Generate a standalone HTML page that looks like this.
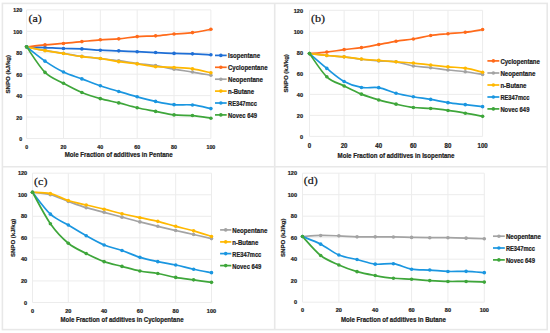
<!DOCTYPE html><html><head><meta charset="utf-8"><style>html,body{margin:0;padding:0;background:#fff;width:550px;height:333px;overflow:hidden}svg{display:block}</style></head><body>
<svg width="550" height="333" viewBox="0 0 550 333">
<rect width="550" height="333" fill="#fff"/>
<g fill="none" stroke="#e8e8e8" stroke-width="1.6">
<rect x="2.4" y="3.4" width="544.8" height="326.2"/>
<line x1="274.7" y1="3.5" x2="274.7" y2="329.8"/>
<line x1="2.5" y1="166.8" x2="547" y2="166.8"/>
</g>
<g><g stroke="#ececec" stroke-width="1" fill="none"><line x1="26.60" y1="138.50" x2="210.90" y2="138.50"/><line x1="26.60" y1="117.07" x2="210.90" y2="117.07"/><line x1="26.60" y1="95.63" x2="210.90" y2="95.63"/><line x1="26.60" y1="74.20" x2="210.90" y2="74.20"/><line x1="26.60" y1="52.77" x2="210.90" y2="52.77"/><line x1="26.60" y1="31.33" x2="210.90" y2="31.33"/><line x1="26.60" y1="9.90" x2="210.90" y2="9.90"/><line x1="26.60" y1="9.90" x2="26.60" y2="138.50"/><line x1="63.46" y1="9.90" x2="63.46" y2="138.50"/><line x1="100.32" y1="9.90" x2="100.32" y2="138.50"/><line x1="137.18" y1="9.90" x2="137.18" y2="138.50"/><line x1="174.04" y1="9.90" x2="174.04" y2="138.50"/><line x1="210.90" y1="9.90" x2="210.90" y2="138.50"/></g><g font-family='"Liberation Sans", sans-serif' font-weight="bold" font-size="6" fill="#222" stroke="#222" stroke-width="0.22"><text x="22.10" y="140.95" text-anchor="end" textLength="2.9" lengthAdjust="spacingAndGlyphs">0</text><text x="22.10" y="119.52" text-anchor="end" textLength="5.9" lengthAdjust="spacingAndGlyphs">20</text><text x="22.10" y="98.08" text-anchor="end" textLength="5.9" lengthAdjust="spacingAndGlyphs">40</text><text x="22.10" y="76.65" text-anchor="end" textLength="5.9" lengthAdjust="spacingAndGlyphs">60</text><text x="22.10" y="55.22" text-anchor="end" textLength="5.9" lengthAdjust="spacingAndGlyphs">80</text><text x="22.10" y="33.78" text-anchor="end" textLength="8.8" lengthAdjust="spacingAndGlyphs">100</text><text x="22.10" y="12.35" text-anchor="end" textLength="8.8" lengthAdjust="spacingAndGlyphs">120</text><text x="26.60" y="148.75" text-anchor="middle" font-size="6.00" textLength="2.9" lengthAdjust="spacingAndGlyphs">0</text><text x="63.46" y="148.75" text-anchor="middle" font-size="6.00" textLength="5.9" lengthAdjust="spacingAndGlyphs">20</text><text x="100.32" y="148.75" text-anchor="middle" font-size="6.00" textLength="5.9" lengthAdjust="spacingAndGlyphs">40</text><text x="137.18" y="148.75" text-anchor="middle" font-size="6.00" textLength="5.9" lengthAdjust="spacingAndGlyphs">60</text><text x="174.04" y="148.75" text-anchor="middle" font-size="6.00" textLength="5.9" lengthAdjust="spacingAndGlyphs">80</text><text x="210.90" y="148.75" text-anchor="middle" font-size="6.00" textLength="8.8" lengthAdjust="spacingAndGlyphs">100</text></g><text x="118.75" y="157.20" font-family='"Liberation Sans", sans-serif' font-weight="bold" font-size="6.8" fill="#222" stroke="#222" stroke-width="0.22" text-anchor="middle" textLength="108.0" lengthAdjust="spacingAndGlyphs">Mole Fraction of additives in Pentane</text><text transform="translate(7.70,74.20) rotate(-90)" x="0" y="2.3" font-family='"Liberation Sans", sans-serif' font-weight="bold" font-size="6.2" fill="#222" stroke="#222" stroke-width="0.2" text-anchor="middle" textLength="38.5" lengthAdjust="spacingAndGlyphs">SNPO (kJ/kg)</text><path d="M26.60,46.87 C29.67,47.00 38.89,47.35 45.03,47.62 C51.17,47.89 57.32,48.27 63.46,48.48 C69.60,48.69 75.75,48.62 81.89,48.91 C88.03,49.19 94.18,49.87 100.32,50.19 C106.46,50.52 112.61,50.59 118.75,50.84 C124.89,51.09 131.04,51.41 137.18,51.69 C143.32,51.98 149.47,52.27 155.61,52.55 C161.75,52.84 167.90,53.20 174.04,53.41 C180.18,53.62 186.33,53.61 192.47,53.84 C198.61,54.07 207.83,54.64 210.90,54.80" fill="none" stroke="#1f6fd6" stroke-width="1.7" stroke-linejoin="round" stroke-linecap="round"/><circle cx="26.60" cy="46.87" r="1.8" fill="#1f6fd6"/><circle cx="45.03" cy="47.62" r="1.8" fill="#1f6fd6"/><circle cx="63.46" cy="48.48" r="1.8" fill="#1f6fd6"/><circle cx="81.89" cy="48.91" r="1.8" fill="#1f6fd6"/><circle cx="100.32" cy="50.19" r="1.8" fill="#1f6fd6"/><circle cx="118.75" cy="50.84" r="1.8" fill="#1f6fd6"/><circle cx="137.18" cy="51.69" r="1.8" fill="#1f6fd6"/><circle cx="155.61" cy="52.55" r="1.8" fill="#1f6fd6"/><circle cx="174.04" cy="53.41" r="1.8" fill="#1f6fd6"/><circle cx="192.47" cy="53.84" r="1.8" fill="#1f6fd6"/><circle cx="210.90" cy="54.80" r="1.8" fill="#1f6fd6"/><path d="M26.60,46.87 C29.67,46.53 38.89,45.41 45.03,44.84 C51.17,44.26 57.32,43.98 63.46,43.44 C69.60,42.91 75.75,42.23 81.89,41.62 C88.03,41.01 94.18,40.26 100.32,39.80 C106.46,39.34 112.61,39.37 118.75,38.84 C124.89,38.30 131.04,37.08 137.18,36.58 C143.32,36.08 149.47,36.26 155.61,35.83 C161.75,35.41 167.90,34.55 174.04,34.01 C180.18,33.48 186.33,33.41 192.47,32.62 C198.61,31.83 207.83,29.85 210.90,29.30" fill="none" stroke="#ff6a1a" stroke-width="1.7" stroke-linejoin="round" stroke-linecap="round"/><circle cx="26.60" cy="46.87" r="1.8" fill="#ff6a1a"/><circle cx="45.03" cy="44.84" r="1.8" fill="#ff6a1a"/><circle cx="63.46" cy="43.44" r="1.8" fill="#ff6a1a"/><circle cx="81.89" cy="41.62" r="1.8" fill="#ff6a1a"/><circle cx="100.32" cy="39.80" r="1.8" fill="#ff6a1a"/><circle cx="118.75" cy="38.84" r="1.8" fill="#ff6a1a"/><circle cx="137.18" cy="36.58" r="1.8" fill="#ff6a1a"/><circle cx="155.61" cy="35.83" r="1.8" fill="#ff6a1a"/><circle cx="174.04" cy="34.01" r="1.8" fill="#ff6a1a"/><circle cx="192.47" cy="32.62" r="1.8" fill="#ff6a1a"/><circle cx="210.90" cy="29.30" r="1.8" fill="#ff6a1a"/><path d="M26.60,46.87 C29.67,47.46 38.89,49.34 45.03,50.41 C51.17,51.48 57.32,52.30 63.46,53.30 C69.60,54.30 75.75,55.54 81.89,56.41 C88.03,57.29 94.18,57.84 100.32,58.55 C106.46,59.27 112.61,59.88 118.75,60.70 C124.89,61.52 131.04,62.66 137.18,63.48 C143.32,64.30 149.47,64.68 155.61,65.63 C161.75,66.57 167.90,68.09 174.04,69.16 C180.18,70.23 186.33,71.04 192.47,72.06 C198.61,73.07 207.83,74.74 210.90,75.27" fill="none" stroke="#a3a3a3" stroke-width="1.7" stroke-linejoin="round" stroke-linecap="round"/><circle cx="26.60" cy="46.87" r="1.8" fill="#a3a3a3"/><circle cx="45.03" cy="50.41" r="1.8" fill="#a3a3a3"/><circle cx="63.46" cy="53.30" r="1.8" fill="#a3a3a3"/><circle cx="81.89" cy="56.41" r="1.8" fill="#a3a3a3"/><circle cx="100.32" cy="58.55" r="1.8" fill="#a3a3a3"/><circle cx="118.75" cy="60.70" r="1.8" fill="#a3a3a3"/><circle cx="137.18" cy="63.48" r="1.8" fill="#a3a3a3"/><circle cx="155.61" cy="65.63" r="1.8" fill="#a3a3a3"/><circle cx="174.04" cy="69.16" r="1.8" fill="#a3a3a3"/><circle cx="192.47" cy="72.06" r="1.8" fill="#a3a3a3"/><circle cx="210.90" cy="75.27" r="1.8" fill="#a3a3a3"/><path d="M26.60,46.87 C29.67,47.50 38.89,49.52 45.03,50.62 C51.17,51.73 57.32,52.52 63.46,53.52 C69.60,54.52 75.75,55.80 81.89,56.62 C88.03,57.45 94.18,57.61 100.32,58.45 C106.46,59.29 112.61,60.75 118.75,61.66 C124.89,62.57 131.04,63.07 137.18,63.91 C143.32,64.75 149.47,66.11 155.61,66.70 C161.75,67.29 167.90,67.09 174.04,67.45 C180.18,67.81 186.33,67.95 192.47,68.84 C198.61,69.73 207.83,72.15 210.90,72.81" fill="none" stroke="#ffb800" stroke-width="1.7" stroke-linejoin="round" stroke-linecap="round"/><circle cx="26.60" cy="46.87" r="1.8" fill="#ffb800"/><circle cx="45.03" cy="50.62" r="1.8" fill="#ffb800"/><circle cx="63.46" cy="53.52" r="1.8" fill="#ffb800"/><circle cx="81.89" cy="56.62" r="1.8" fill="#ffb800"/><circle cx="100.32" cy="58.45" r="1.8" fill="#ffb800"/><circle cx="118.75" cy="61.66" r="1.8" fill="#ffb800"/><circle cx="137.18" cy="63.91" r="1.8" fill="#ffb800"/><circle cx="155.61" cy="66.70" r="1.8" fill="#ffb800"/><circle cx="174.04" cy="67.45" r="1.8" fill="#ffb800"/><circle cx="192.47" cy="68.84" r="1.8" fill="#ffb800"/><circle cx="210.90" cy="72.81" r="1.8" fill="#ffb800"/><path d="M26.60,46.87 C29.67,49.25 38.89,56.93 45.03,61.13 C51.17,65.32 57.32,69.09 63.46,72.06 C69.60,75.02 75.75,76.63 81.89,78.92 C88.03,81.20 94.18,83.68 100.32,85.77 C106.46,87.86 112.61,89.61 118.75,91.45 C124.89,93.29 131.04,95.15 137.18,96.81 C143.32,98.47 149.47,100.12 155.61,101.42 C161.75,102.72 167.90,104.05 174.04,104.64 C180.18,105.22 186.33,104.30 192.47,104.96 C198.61,105.62 207.83,107.99 210.90,108.60" fill="none" stroke="#1a96e0" stroke-width="1.7" stroke-linejoin="round" stroke-linecap="round"/><circle cx="26.60" cy="46.87" r="1.8" fill="#1a96e0"/><circle cx="45.03" cy="61.13" r="1.8" fill="#1a96e0"/><circle cx="63.46" cy="72.06" r="1.8" fill="#1a96e0"/><circle cx="81.89" cy="78.92" r="1.8" fill="#1a96e0"/><circle cx="100.32" cy="85.77" r="1.8" fill="#1a96e0"/><circle cx="118.75" cy="91.45" r="1.8" fill="#1a96e0"/><circle cx="137.18" cy="96.81" r="1.8" fill="#1a96e0"/><circle cx="155.61" cy="101.42" r="1.8" fill="#1a96e0"/><circle cx="174.04" cy="104.64" r="1.8" fill="#1a96e0"/><circle cx="192.47" cy="104.96" r="1.8" fill="#1a96e0"/><circle cx="210.90" cy="108.60" r="1.8" fill="#1a96e0"/><path d="M26.60,46.87 C29.67,51.12 38.89,66.31 45.03,72.38 C51.17,78.45 57.32,79.95 63.46,83.31 C69.60,86.67 75.75,89.97 81.89,92.53 C88.03,95.08 94.18,96.90 100.32,98.63 C106.46,100.37 112.61,101.40 118.75,102.92 C124.89,104.44 131.04,106.33 137.18,107.74 C143.32,109.15 149.47,110.19 155.61,111.39 C161.75,112.58 167.90,114.23 174.04,114.92 C180.18,115.62 186.33,115.01 192.47,115.57 C198.61,116.12 207.83,117.80 210.90,118.25" fill="none" stroke="#3ea63a" stroke-width="1.7" stroke-linejoin="round" stroke-linecap="round"/><circle cx="26.60" cy="46.87" r="1.8" fill="#3ea63a"/><circle cx="45.03" cy="72.38" r="1.8" fill="#3ea63a"/><circle cx="63.46" cy="83.31" r="1.8" fill="#3ea63a"/><circle cx="81.89" cy="92.53" r="1.8" fill="#3ea63a"/><circle cx="100.32" cy="98.63" r="1.8" fill="#3ea63a"/><circle cx="118.75" cy="102.92" r="1.8" fill="#3ea63a"/><circle cx="137.18" cy="107.74" r="1.8" fill="#3ea63a"/><circle cx="155.61" cy="111.39" r="1.8" fill="#3ea63a"/><circle cx="174.04" cy="114.92" r="1.8" fill="#3ea63a"/><circle cx="192.47" cy="115.57" r="1.8" fill="#3ea63a"/><circle cx="210.90" cy="118.25" r="1.8" fill="#3ea63a"/><line x1="215.00" y1="55.40" x2="226.70" y2="55.40" stroke="#1f6fd6" stroke-width="1.7"/><circle cx="220.85" cy="55.40" r="1.8" fill="#1f6fd6"/><text x="228.00" y="58.30" font-family='"Liberation Sans", sans-serif' font-weight="bold" font-size="6.9" fill="#222" stroke="#222" stroke-width="0.22" textLength="32.0" lengthAdjust="spacingAndGlyphs">Isopentane</text><line x1="215.00" y1="67.30" x2="226.70" y2="67.30" stroke="#ff6a1a" stroke-width="1.7"/><circle cx="220.85" cy="67.30" r="1.8" fill="#ff6a1a"/><text x="228.00" y="70.20" font-family='"Liberation Sans", sans-serif' font-weight="bold" font-size="6.9" fill="#222" stroke="#222" stroke-width="0.22" textLength="39.5" lengthAdjust="spacingAndGlyphs">Cyclopentane</text><line x1="215.00" y1="79.20" x2="226.70" y2="79.20" stroke="#a3a3a3" stroke-width="1.7"/><circle cx="220.85" cy="79.20" r="1.8" fill="#a3a3a3"/><text x="228.00" y="82.10" font-family='"Liberation Sans", sans-serif' font-weight="bold" font-size="6.9" fill="#222" stroke="#222" stroke-width="0.22" textLength="35.0" lengthAdjust="spacingAndGlyphs">Neopentane</text><line x1="215.00" y1="91.10" x2="226.70" y2="91.10" stroke="#ffb800" stroke-width="1.7"/><circle cx="220.85" cy="91.10" r="1.8" fill="#ffb800"/><text x="228.00" y="94.00" font-family='"Liberation Sans", sans-serif' font-weight="bold" font-size="6.9" fill="#222" stroke="#222" stroke-width="0.22" textLength="26.0" lengthAdjust="spacingAndGlyphs">n-Butane</text><line x1="215.00" y1="103.00" x2="226.70" y2="103.00" stroke="#1a96e0" stroke-width="1.7"/><circle cx="220.85" cy="103.00" r="1.8" fill="#1a96e0"/><text x="228.00" y="105.90" font-family='"Liberation Sans", sans-serif' font-weight="bold" font-size="6.9" fill="#222" stroke="#222" stroke-width="0.22" textLength="29.0" lengthAdjust="spacingAndGlyphs">RE347mcc</text><line x1="215.00" y1="114.90" x2="226.70" y2="114.90" stroke="#3ea63a" stroke-width="1.7"/><circle cx="220.85" cy="114.90" r="1.8" fill="#3ea63a"/><text x="228.00" y="117.80" font-family='"Liberation Sans", sans-serif' font-weight="bold" font-size="6.9" fill="#222" stroke="#222" stroke-width="0.22" textLength="29.0" lengthAdjust="spacingAndGlyphs">Novec 649</text><text transform="translate(28.40,21.60) scale(1.1,1)" font-family='"Liberation Serif", serif' font-size="10.9" fill="#111" stroke="#111" stroke-width="0.2">(a)</text></g>
<g><g stroke="#ececec" stroke-width="1" fill="none"><line x1="309.50" y1="136.40" x2="482.60" y2="136.40"/><line x1="309.50" y1="115.38" x2="482.60" y2="115.38"/><line x1="309.50" y1="94.37" x2="482.60" y2="94.37"/><line x1="309.50" y1="73.35" x2="482.60" y2="73.35"/><line x1="309.50" y1="52.33" x2="482.60" y2="52.33"/><line x1="309.50" y1="31.32" x2="482.60" y2="31.32"/><line x1="309.50" y1="10.30" x2="482.60" y2="10.30"/><line x1="309.50" y1="10.30" x2="309.50" y2="136.40"/><line x1="344.12" y1="10.30" x2="344.12" y2="136.40"/><line x1="378.74" y1="10.30" x2="378.74" y2="136.40"/><line x1="413.36" y1="10.30" x2="413.36" y2="136.40"/><line x1="447.98" y1="10.30" x2="447.98" y2="136.40"/><line x1="482.60" y1="10.30" x2="482.60" y2="136.40"/></g><g font-family='"Liberation Sans", sans-serif' font-weight="bold" font-size="6" fill="#222" stroke="#222" stroke-width="0.22"><text x="303.00" y="139.15" text-anchor="end" textLength="3.1" lengthAdjust="spacingAndGlyphs">0</text><text x="303.00" y="118.13" text-anchor="end" textLength="6.2" lengthAdjust="spacingAndGlyphs">20</text><text x="303.00" y="97.12" text-anchor="end" textLength="6.2" lengthAdjust="spacingAndGlyphs">40</text><text x="303.00" y="76.10" text-anchor="end" textLength="6.2" lengthAdjust="spacingAndGlyphs">60</text><text x="303.00" y="55.08" text-anchor="end" textLength="6.2" lengthAdjust="spacingAndGlyphs">80</text><text x="303.00" y="34.07" text-anchor="end" textLength="9.3" lengthAdjust="spacingAndGlyphs">100</text><text x="303.00" y="13.05" text-anchor="end" textLength="9.3" lengthAdjust="spacingAndGlyphs">120</text><text x="309.50" y="147.55" text-anchor="middle" font-size="6.60" textLength="3.4" lengthAdjust="spacingAndGlyphs">0</text><text x="344.12" y="147.55" text-anchor="middle" font-size="6.60" textLength="6.8" lengthAdjust="spacingAndGlyphs">20</text><text x="378.74" y="147.55" text-anchor="middle" font-size="6.60" textLength="6.8" lengthAdjust="spacingAndGlyphs">40</text><text x="413.36" y="147.55" text-anchor="middle" font-size="6.60" textLength="6.8" lengthAdjust="spacingAndGlyphs">60</text><text x="447.98" y="147.55" text-anchor="middle" font-size="6.60" textLength="6.8" lengthAdjust="spacingAndGlyphs">80</text><text x="482.60" y="147.55" text-anchor="middle" font-size="6.60" textLength="10.2" lengthAdjust="spacingAndGlyphs">100</text></g><text x="396.05" y="157.70" font-family='"Liberation Sans", sans-serif' font-weight="bold" font-size="6.8" fill="#222" stroke="#222" stroke-width="0.22" text-anchor="middle" textLength="117.0" lengthAdjust="spacingAndGlyphs">Mole Fraction of additives in Isopentane</text><text transform="translate(285.20,73.35) rotate(-90)" x="0" y="2.3" font-family='"Liberation Sans", sans-serif' font-weight="bold" font-size="6.2" fill="#222" stroke="#222" stroke-width="0.2" text-anchor="middle" textLength="38.5" lengthAdjust="spacingAndGlyphs">SNPO (kJ/kg)</text><path d="M309.50,53.59 C312.38,53.35 321.04,52.79 326.81,52.12 C332.58,51.46 338.35,50.35 344.12,49.60 C349.89,48.85 355.66,48.46 361.43,47.60 C367.20,46.75 372.97,45.50 378.74,44.45 C384.51,43.40 390.28,42.21 396.05,41.30 C401.82,40.39 407.59,39.95 413.36,38.99 C419.13,38.02 424.90,36.40 430.67,35.52 C436.44,34.64 442.21,34.28 447.98,33.73 C453.75,33.19 459.52,32.96 465.29,32.26 C471.06,31.56 479.72,29.99 482.60,29.53" fill="none" stroke="#ff6a1a" stroke-width="1.7" stroke-linejoin="round" stroke-linecap="round"/><circle cx="309.50" cy="53.59" r="1.8" fill="#ff6a1a"/><circle cx="326.81" cy="52.12" r="1.8" fill="#ff6a1a"/><circle cx="344.12" cy="49.60" r="1.8" fill="#ff6a1a"/><circle cx="361.43" cy="47.60" r="1.8" fill="#ff6a1a"/><circle cx="378.74" cy="44.45" r="1.8" fill="#ff6a1a"/><circle cx="396.05" cy="41.30" r="1.8" fill="#ff6a1a"/><circle cx="413.36" cy="38.99" r="1.8" fill="#ff6a1a"/><circle cx="430.67" cy="35.52" r="1.8" fill="#ff6a1a"/><circle cx="447.98" cy="33.73" r="1.8" fill="#ff6a1a"/><circle cx="465.29" cy="32.26" r="1.8" fill="#ff6a1a"/><circle cx="482.60" cy="29.53" r="1.8" fill="#ff6a1a"/><path d="M309.50,53.59 C312.38,53.91 321.04,54.94 326.81,55.49 C332.58,56.03 338.35,56.22 344.12,56.85 C349.89,57.48 355.66,58.59 361.43,59.27 C367.20,59.95 372.97,60.53 378.74,60.95 C384.51,61.37 390.28,60.95 396.05,61.79 C401.82,62.63 407.59,65.00 413.36,65.99 C419.13,66.99 424.90,67.12 430.67,67.78 C436.44,68.45 442.21,69.32 447.98,69.99 C453.75,70.65 459.52,71.04 465.29,71.77 C471.06,72.51 479.72,73.96 482.60,74.40" fill="none" stroke="#a3a3a3" stroke-width="1.7" stroke-linejoin="round" stroke-linecap="round"/><circle cx="309.50" cy="53.59" r="1.8" fill="#a3a3a3"/><circle cx="326.81" cy="55.49" r="1.8" fill="#a3a3a3"/><circle cx="344.12" cy="56.85" r="1.8" fill="#a3a3a3"/><circle cx="361.43" cy="59.27" r="1.8" fill="#a3a3a3"/><circle cx="378.74" cy="60.95" r="1.8" fill="#a3a3a3"/><circle cx="396.05" cy="61.79" r="1.8" fill="#a3a3a3"/><circle cx="413.36" cy="65.99" r="1.8" fill="#a3a3a3"/><circle cx="430.67" cy="67.78" r="1.8" fill="#a3a3a3"/><circle cx="447.98" cy="69.99" r="1.8" fill="#a3a3a3"/><circle cx="465.29" cy="71.77" r="1.8" fill="#a3a3a3"/><circle cx="482.60" cy="74.40" r="1.8" fill="#a3a3a3"/><path d="M309.50,53.59 C312.38,53.91 321.04,54.94 326.81,55.49 C332.58,56.03 338.35,56.26 344.12,56.85 C349.89,57.45 355.66,58.46 361.43,59.06 C367.20,59.65 372.97,59.97 378.74,60.42 C384.51,60.88 390.28,61.35 396.05,61.79 C401.82,62.23 407.59,62.51 413.36,63.05 C419.13,63.59 424.90,64.42 430.67,65.05 C436.44,65.68 442.21,66.31 447.98,66.83 C453.75,67.36 459.52,67.31 465.29,68.20 C471.06,69.09 479.72,71.53 482.60,72.19" fill="none" stroke="#ffb800" stroke-width="1.7" stroke-linejoin="round" stroke-linecap="round"/><circle cx="309.50" cy="53.59" r="1.8" fill="#ffb800"/><circle cx="326.81" cy="55.49" r="1.8" fill="#ffb800"/><circle cx="344.12" cy="56.85" r="1.8" fill="#ffb800"/><circle cx="361.43" cy="59.06" r="1.8" fill="#ffb800"/><circle cx="378.74" cy="60.42" r="1.8" fill="#ffb800"/><circle cx="396.05" cy="61.79" r="1.8" fill="#ffb800"/><circle cx="413.36" cy="63.05" r="1.8" fill="#ffb800"/><circle cx="430.67" cy="65.05" r="1.8" fill="#ffb800"/><circle cx="447.98" cy="66.83" r="1.8" fill="#ffb800"/><circle cx="465.29" cy="68.20" r="1.8" fill="#ffb800"/><circle cx="482.60" cy="72.19" r="1.8" fill="#ffb800"/><path d="M309.50,53.59 C312.38,56.06 321.04,63.77 326.81,68.41 C332.58,73.05 338.35,78.27 344.12,81.44 C349.89,84.61 355.66,86.40 361.43,87.43 C367.20,88.46 372.97,86.68 378.74,87.64 C384.51,88.60 390.28,91.69 396.05,93.21 C401.82,94.73 407.59,95.75 413.36,96.78 C419.13,97.82 424.90,98.43 430.67,99.41 C436.44,100.39 442.21,101.79 447.98,102.67 C453.75,103.54 459.52,104.00 465.29,104.66 C471.06,105.33 479.72,106.33 482.60,106.66" fill="none" stroke="#1a96e0" stroke-width="1.7" stroke-linejoin="round" stroke-linecap="round"/><circle cx="309.50" cy="53.59" r="1.8" fill="#1a96e0"/><circle cx="326.81" cy="68.41" r="1.8" fill="#1a96e0"/><circle cx="344.12" cy="81.44" r="1.8" fill="#1a96e0"/><circle cx="361.43" cy="87.43" r="1.8" fill="#1a96e0"/><circle cx="378.74" cy="87.64" r="1.8" fill="#1a96e0"/><circle cx="396.05" cy="93.21" r="1.8" fill="#1a96e0"/><circle cx="413.36" cy="96.78" r="1.8" fill="#1a96e0"/><circle cx="430.67" cy="99.41" r="1.8" fill="#1a96e0"/><circle cx="447.98" cy="102.67" r="1.8" fill="#1a96e0"/><circle cx="465.29" cy="104.66" r="1.8" fill="#1a96e0"/><circle cx="482.60" cy="106.66" r="1.8" fill="#1a96e0"/><path d="M309.50,53.59 C312.38,57.46 321.04,71.42 326.81,76.82 C332.58,82.21 338.35,83.07 344.12,85.96 C349.89,88.85 355.66,91.83 361.43,94.16 C367.20,96.49 372.97,98.27 378.74,99.94 C384.51,101.60 390.28,102.88 396.05,104.14 C401.82,105.40 407.59,106.78 413.36,107.50 C419.13,108.22 424.90,107.96 430.67,108.45 C436.44,108.94 442.21,109.66 447.98,110.44 C453.75,111.23 459.52,112.20 465.29,113.18 C471.06,114.16 479.72,115.80 482.60,116.33" fill="none" stroke="#3ea63a" stroke-width="1.7" stroke-linejoin="round" stroke-linecap="round"/><circle cx="309.50" cy="53.59" r="1.8" fill="#3ea63a"/><circle cx="326.81" cy="76.82" r="1.8" fill="#3ea63a"/><circle cx="344.12" cy="85.96" r="1.8" fill="#3ea63a"/><circle cx="361.43" cy="94.16" r="1.8" fill="#3ea63a"/><circle cx="378.74" cy="99.94" r="1.8" fill="#3ea63a"/><circle cx="396.05" cy="104.14" r="1.8" fill="#3ea63a"/><circle cx="413.36" cy="107.50" r="1.8" fill="#3ea63a"/><circle cx="430.67" cy="108.45" r="1.8" fill="#3ea63a"/><circle cx="447.98" cy="110.44" r="1.8" fill="#3ea63a"/><circle cx="465.29" cy="113.18" r="1.8" fill="#3ea63a"/><circle cx="482.60" cy="116.33" r="1.8" fill="#3ea63a"/><line x1="487.40" y1="60.90" x2="499.30" y2="60.90" stroke="#ff6a1a" stroke-width="1.7"/><circle cx="493.35" cy="60.90" r="1.8" fill="#ff6a1a"/><text x="500.40" y="63.80" font-family='"Liberation Sans", sans-serif' font-weight="bold" font-size="6.9" fill="#222" stroke="#222" stroke-width="0.22" textLength="39.5" lengthAdjust="spacingAndGlyphs">Cyclopentane</text><line x1="487.40" y1="73.00" x2="499.30" y2="73.00" stroke="#a3a3a3" stroke-width="1.7"/><circle cx="493.35" cy="73.00" r="1.8" fill="#a3a3a3"/><text x="500.40" y="75.90" font-family='"Liberation Sans", sans-serif' font-weight="bold" font-size="6.9" fill="#222" stroke="#222" stroke-width="0.22" textLength="35.0" lengthAdjust="spacingAndGlyphs">Neopentane</text><line x1="487.40" y1="85.00" x2="499.30" y2="85.00" stroke="#ffb800" stroke-width="1.7"/><circle cx="493.35" cy="85.00" r="1.8" fill="#ffb800"/><text x="500.40" y="87.90" font-family='"Liberation Sans", sans-serif' font-weight="bold" font-size="6.9" fill="#222" stroke="#222" stroke-width="0.22" textLength="26.0" lengthAdjust="spacingAndGlyphs">n-Butane</text><line x1="487.40" y1="97.00" x2="499.30" y2="97.00" stroke="#1a96e0" stroke-width="1.7"/><circle cx="493.35" cy="97.00" r="1.8" fill="#1a96e0"/><text x="500.40" y="99.90" font-family='"Liberation Sans", sans-serif' font-weight="bold" font-size="6.9" fill="#222" stroke="#222" stroke-width="0.22" textLength="29.0" lengthAdjust="spacingAndGlyphs">RE347mcc</text><line x1="487.40" y1="108.90" x2="499.30" y2="108.90" stroke="#3ea63a" stroke-width="1.7"/><circle cx="493.35" cy="108.90" r="1.8" fill="#3ea63a"/><text x="500.40" y="111.80" font-family='"Liberation Sans", sans-serif' font-weight="bold" font-size="6.9" fill="#222" stroke="#222" stroke-width="0.22" textLength="29.0" lengthAdjust="spacingAndGlyphs">Novec 649</text><text transform="translate(311.00,21.60) scale(1.1,1)" font-family='"Liberation Serif", serif' font-size="10.9" fill="#111" stroke="#111" stroke-width="0.2">(b)</text></g>
<g><g stroke="#ececec" stroke-width="1" fill="none"><line x1="32.50" y1="302.50" x2="211.50" y2="302.50"/><line x1="32.50" y1="280.95" x2="211.50" y2="280.95"/><line x1="32.50" y1="259.40" x2="211.50" y2="259.40"/><line x1="32.50" y1="237.85" x2="211.50" y2="237.85"/><line x1="32.50" y1="216.30" x2="211.50" y2="216.30"/><line x1="32.50" y1="194.75" x2="211.50" y2="194.75"/><line x1="32.50" y1="173.20" x2="211.50" y2="173.20"/><line x1="32.50" y1="173.20" x2="32.50" y2="302.50"/><line x1="68.30" y1="173.20" x2="68.30" y2="302.50"/><line x1="104.10" y1="173.20" x2="104.10" y2="302.50"/><line x1="139.90" y1="173.20" x2="139.90" y2="302.50"/><line x1="175.70" y1="173.20" x2="175.70" y2="302.50"/><line x1="211.50" y1="173.20" x2="211.50" y2="302.50"/></g><g font-family='"Liberation Sans", sans-serif' font-weight="bold" font-size="6" fill="#222" stroke="#222" stroke-width="0.22"><text x="27.20" y="304.55" text-anchor="end" textLength="3.1" lengthAdjust="spacingAndGlyphs">0</text><text x="27.20" y="283.00" text-anchor="end" textLength="6.2" lengthAdjust="spacingAndGlyphs">20</text><text x="27.20" y="261.45" text-anchor="end" textLength="6.2" lengthAdjust="spacingAndGlyphs">40</text><text x="27.20" y="239.90" text-anchor="end" textLength="6.2" lengthAdjust="spacingAndGlyphs">60</text><text x="27.20" y="218.35" text-anchor="end" textLength="6.2" lengthAdjust="spacingAndGlyphs">80</text><text x="27.20" y="196.80" text-anchor="end" textLength="9.3" lengthAdjust="spacingAndGlyphs">100</text><text x="27.20" y="175.25" text-anchor="end" textLength="9.3" lengthAdjust="spacingAndGlyphs">120</text><text x="32.50" y="312.75" text-anchor="middle" font-size="6.00" textLength="3.1" lengthAdjust="spacingAndGlyphs">0</text><text x="68.30" y="312.75" text-anchor="middle" font-size="6.00" textLength="6.2" lengthAdjust="spacingAndGlyphs">20</text><text x="104.10" y="312.75" text-anchor="middle" font-size="6.00" textLength="6.2" lengthAdjust="spacingAndGlyphs">40</text><text x="139.90" y="312.75" text-anchor="middle" font-size="6.00" textLength="6.2" lengthAdjust="spacingAndGlyphs">60</text><text x="175.70" y="312.75" text-anchor="middle" font-size="6.00" textLength="6.2" lengthAdjust="spacingAndGlyphs">80</text><text x="211.50" y="312.75" text-anchor="middle" font-size="6.00" textLength="9.3" lengthAdjust="spacingAndGlyphs">100</text></g><text x="122.00" y="322.20" font-family='"Liberation Sans", sans-serif' font-weight="bold" font-size="6.8" fill="#222" stroke="#222" stroke-width="0.22" text-anchor="middle" textLength="123.0" lengthAdjust="spacingAndGlyphs">Mole Fraction of additives in Cyclopentane</text><text transform="translate(12.50,237.85) rotate(-90)" x="0" y="2.3" font-family='"Liberation Sans", sans-serif' font-weight="bold" font-size="6.2" fill="#222" stroke="#222" stroke-width="0.2" text-anchor="middle" textLength="38.5" lengthAdjust="spacingAndGlyphs">SNPO (kJ/kg)</text><path d="M32.50,192.27 C35.48,192.67 44.43,193.12 50.40,194.64 C56.37,196.17 62.33,199.26 68.30,201.43 C74.27,203.60 80.23,205.87 86.20,207.68 C92.17,209.49 98.13,210.73 104.10,212.31 C110.07,213.89 116.03,215.56 122.00,217.16 C127.97,218.76 133.93,220.38 139.90,221.90 C145.87,223.43 151.83,224.88 157.80,226.32 C163.77,227.76 169.73,229.16 175.70,230.52 C181.67,231.89 187.63,233.16 193.60,234.51 C199.57,235.86 208.52,237.92 211.50,238.60" fill="none" stroke="#a3a3a3" stroke-width="1.7" stroke-linejoin="round" stroke-linecap="round"/><circle cx="32.50" cy="192.27" r="1.8" fill="#a3a3a3"/><circle cx="50.40" cy="194.64" r="1.8" fill="#a3a3a3"/><circle cx="68.30" cy="201.43" r="1.8" fill="#a3a3a3"/><circle cx="86.20" cy="207.68" r="1.8" fill="#a3a3a3"/><circle cx="104.10" cy="212.31" r="1.8" fill="#a3a3a3"/><circle cx="122.00" cy="217.16" r="1.8" fill="#a3a3a3"/><circle cx="139.90" cy="221.90" r="1.8" fill="#a3a3a3"/><circle cx="157.80" cy="226.32" r="1.8" fill="#a3a3a3"/><circle cx="175.70" cy="230.52" r="1.8" fill="#a3a3a3"/><circle cx="193.60" cy="234.51" r="1.8" fill="#a3a3a3"/><circle cx="211.50" cy="238.60" r="1.8" fill="#a3a3a3"/><path d="M32.50,192.27 C35.48,192.51 44.43,192.31 50.40,193.67 C56.37,195.04 62.33,198.58 68.30,200.46 C74.27,202.35 80.23,203.53 86.20,204.99 C92.17,206.44 98.13,207.73 104.10,209.19 C110.07,210.64 116.03,212.30 122.00,213.71 C127.97,215.13 133.93,216.43 139.90,217.70 C145.87,218.98 151.83,219.93 157.80,221.36 C163.77,222.80 169.73,224.74 175.70,226.32 C181.67,227.90 187.63,229.16 193.60,230.85 C199.57,232.53 208.52,235.52 211.50,236.45" fill="none" stroke="#ffb800" stroke-width="1.7" stroke-linejoin="round" stroke-linecap="round"/><circle cx="32.50" cy="192.27" r="1.8" fill="#ffb800"/><circle cx="50.40" cy="193.67" r="1.8" fill="#ffb800"/><circle cx="68.30" cy="200.46" r="1.8" fill="#ffb800"/><circle cx="86.20" cy="204.99" r="1.8" fill="#ffb800"/><circle cx="104.10" cy="209.19" r="1.8" fill="#ffb800"/><circle cx="122.00" cy="213.71" r="1.8" fill="#ffb800"/><circle cx="139.90" cy="217.70" r="1.8" fill="#ffb800"/><circle cx="157.80" cy="221.36" r="1.8" fill="#ffb800"/><circle cx="175.70" cy="226.32" r="1.8" fill="#ffb800"/><circle cx="193.60" cy="230.85" r="1.8" fill="#ffb800"/><circle cx="211.50" cy="236.45" r="1.8" fill="#ffb800"/><path d="M32.50,192.27 C35.48,195.92 44.43,208.69 50.40,214.14 C56.37,219.60 62.33,221.44 68.30,225.03 C74.27,228.62 80.23,232.37 86.20,235.69 C92.17,239.02 98.13,242.50 104.10,244.96 C110.07,247.42 116.03,248.39 122.00,250.46 C127.97,252.52 133.93,255.49 139.90,257.35 C145.87,259.22 151.83,260.39 157.80,261.66 C163.77,262.94 169.73,263.75 175.70,265.00 C181.67,266.26 187.63,267.93 193.60,269.21 C199.57,270.48 208.52,272.08 211.50,272.65" fill="none" stroke="#1a96e0" stroke-width="1.7" stroke-linejoin="round" stroke-linecap="round"/><circle cx="32.50" cy="192.27" r="1.8" fill="#1a96e0"/><circle cx="50.40" cy="214.14" r="1.8" fill="#1a96e0"/><circle cx="68.30" cy="225.03" r="1.8" fill="#1a96e0"/><circle cx="86.20" cy="235.69" r="1.8" fill="#1a96e0"/><circle cx="104.10" cy="244.96" r="1.8" fill="#1a96e0"/><circle cx="122.00" cy="250.46" r="1.8" fill="#1a96e0"/><circle cx="139.90" cy="257.35" r="1.8" fill="#1a96e0"/><circle cx="157.80" cy="261.66" r="1.8" fill="#1a96e0"/><circle cx="175.70" cy="265.00" r="1.8" fill="#1a96e0"/><circle cx="193.60" cy="269.21" r="1.8" fill="#1a96e0"/><circle cx="211.50" cy="272.65" r="1.8" fill="#1a96e0"/><path d="M32.50,192.27 C35.48,197.52 44.43,215.24 50.40,223.73 C56.37,232.23 62.33,238.28 68.30,243.24 C74.27,248.19 80.23,250.40 86.20,253.47 C92.17,256.54 98.13,259.51 104.10,261.66 C110.07,263.82 116.03,264.84 122.00,266.40 C127.97,267.97 133.93,269.85 139.90,271.04 C145.87,272.22 151.83,272.46 157.80,273.52 C163.77,274.57 169.73,276.33 175.70,277.39 C181.67,278.45 187.63,279.05 193.60,279.87 C199.57,280.70 208.52,281.94 211.50,282.35" fill="none" stroke="#3ea63a" stroke-width="1.7" stroke-linejoin="round" stroke-linecap="round"/><circle cx="32.50" cy="192.27" r="1.8" fill="#3ea63a"/><circle cx="50.40" cy="223.73" r="1.8" fill="#3ea63a"/><circle cx="68.30" cy="243.24" r="1.8" fill="#3ea63a"/><circle cx="86.20" cy="253.47" r="1.8" fill="#3ea63a"/><circle cx="104.10" cy="261.66" r="1.8" fill="#3ea63a"/><circle cx="122.00" cy="266.40" r="1.8" fill="#3ea63a"/><circle cx="139.90" cy="271.04" r="1.8" fill="#3ea63a"/><circle cx="157.80" cy="273.52" r="1.8" fill="#3ea63a"/><circle cx="175.70" cy="277.39" r="1.8" fill="#3ea63a"/><circle cx="193.60" cy="279.87" r="1.8" fill="#3ea63a"/><circle cx="211.50" cy="282.35" r="1.8" fill="#3ea63a"/><line x1="220.10" y1="229.90" x2="231.30" y2="229.90" stroke="#a3a3a3" stroke-width="1.7"/><circle cx="225.70" cy="229.90" r="1.8" fill="#a3a3a3"/><text x="232.30" y="232.80" font-family='"Liberation Sans", sans-serif' font-weight="bold" font-size="6.9" fill="#222" stroke="#222" stroke-width="0.22" textLength="35.0" lengthAdjust="spacingAndGlyphs">Neopentane</text><line x1="220.10" y1="241.90" x2="231.30" y2="241.90" stroke="#ffb800" stroke-width="1.7"/><circle cx="225.70" cy="241.90" r="1.8" fill="#ffb800"/><text x="232.30" y="244.80" font-family='"Liberation Sans", sans-serif' font-weight="bold" font-size="6.9" fill="#222" stroke="#222" stroke-width="0.22" textLength="26.0" lengthAdjust="spacingAndGlyphs">n-Butane</text><line x1="220.10" y1="253.60" x2="231.30" y2="253.60" stroke="#1a96e0" stroke-width="1.7"/><circle cx="225.70" cy="253.60" r="1.8" fill="#1a96e0"/><text x="232.30" y="256.50" font-family='"Liberation Sans", sans-serif' font-weight="bold" font-size="6.9" fill="#222" stroke="#222" stroke-width="0.22" textLength="29.0" lengthAdjust="spacingAndGlyphs">RE347mcc</text><line x1="220.10" y1="265.60" x2="231.30" y2="265.60" stroke="#3ea63a" stroke-width="1.7"/><circle cx="225.70" cy="265.60" r="1.8" fill="#3ea63a"/><text x="232.30" y="268.50" font-family='"Liberation Sans", sans-serif' font-weight="bold" font-size="6.9" fill="#222" stroke="#222" stroke-width="0.22" textLength="29.0" lengthAdjust="spacingAndGlyphs">Novec 649</text><text transform="translate(34.10,185.00) scale(1.1,1)" font-family='"Liberation Serif", serif' font-size="10.9" fill="#111" stroke="#111" stroke-width="0.2">(c)</text></g>
<g><g stroke="#ececec" stroke-width="1" fill="none"><line x1="302.50" y1="302.20" x2="484.30" y2="302.20"/><line x1="302.50" y1="280.70" x2="484.30" y2="280.70"/><line x1="302.50" y1="259.20" x2="484.30" y2="259.20"/><line x1="302.50" y1="237.70" x2="484.30" y2="237.70"/><line x1="302.50" y1="216.20" x2="484.30" y2="216.20"/><line x1="302.50" y1="194.70" x2="484.30" y2="194.70"/><line x1="302.50" y1="173.20" x2="484.30" y2="173.20"/><line x1="302.50" y1="173.20" x2="302.50" y2="302.20"/><line x1="338.86" y1="173.20" x2="338.86" y2="302.20"/><line x1="375.22" y1="173.20" x2="375.22" y2="302.20"/><line x1="411.58" y1="173.20" x2="411.58" y2="302.20"/><line x1="447.94" y1="173.20" x2="447.94" y2="302.20"/><line x1="484.30" y1="173.20" x2="484.30" y2="302.20"/></g><g font-family='"Liberation Sans", sans-serif' font-weight="bold" font-size="6" fill="#222" stroke="#222" stroke-width="0.22"><text x="297.00" y="304.15" text-anchor="end" textLength="3.1" lengthAdjust="spacingAndGlyphs">0</text><text x="297.00" y="282.65" text-anchor="end" textLength="6.2" lengthAdjust="spacingAndGlyphs">20</text><text x="297.00" y="261.15" text-anchor="end" textLength="6.2" lengthAdjust="spacingAndGlyphs">40</text><text x="297.00" y="239.65" text-anchor="end" textLength="6.2" lengthAdjust="spacingAndGlyphs">60</text><text x="297.00" y="218.15" text-anchor="end" textLength="6.2" lengthAdjust="spacingAndGlyphs">80</text><text x="297.00" y="196.65" text-anchor="end" textLength="9.3" lengthAdjust="spacingAndGlyphs">100</text><text x="297.00" y="175.15" text-anchor="end" textLength="9.3" lengthAdjust="spacingAndGlyphs">120</text><text x="302.50" y="312.45" text-anchor="middle" font-size="6.00" textLength="3.1" lengthAdjust="spacingAndGlyphs">0</text><text x="338.86" y="312.45" text-anchor="middle" font-size="6.00" textLength="6.2" lengthAdjust="spacingAndGlyphs">20</text><text x="375.22" y="312.45" text-anchor="middle" font-size="6.00" textLength="6.2" lengthAdjust="spacingAndGlyphs">40</text><text x="411.58" y="312.45" text-anchor="middle" font-size="6.00" textLength="6.2" lengthAdjust="spacingAndGlyphs">60</text><text x="447.94" y="312.45" text-anchor="middle" font-size="6.00" textLength="6.2" lengthAdjust="spacingAndGlyphs">80</text><text x="484.30" y="312.45" text-anchor="middle" font-size="6.00" textLength="9.3" lengthAdjust="spacingAndGlyphs">100</text></g><text x="393.40" y="321.70" font-family='"Liberation Sans", sans-serif' font-weight="bold" font-size="6.8" fill="#222" stroke="#222" stroke-width="0.22" text-anchor="middle" textLength="105.0" lengthAdjust="spacingAndGlyphs">Mole Fraction of additives in Butane</text><text transform="translate(282.50,237.70) rotate(-90)" x="0" y="2.3" font-family='"Liberation Sans", sans-serif' font-weight="bold" font-size="6.2" fill="#222" stroke="#222" stroke-width="0.2" text-anchor="middle" textLength="38.5" lengthAdjust="spacingAndGlyphs">SNPO (kJ/kg)</text><path d="M302.50,236.52 C305.53,236.34 314.62,235.55 320.68,235.44 C326.74,235.34 332.80,235.64 338.86,235.87 C344.92,236.11 350.98,236.68 357.04,236.84 C363.10,237.00 369.16,236.82 375.22,236.84 C381.28,236.86 387.34,236.86 393.40,236.95 C399.46,237.04 405.52,237.25 411.58,237.38 C417.64,237.50 423.70,237.65 429.76,237.70 C435.82,237.75 441.88,237.63 447.94,237.70 C454.00,237.77 460.06,237.95 466.12,238.13 C472.18,238.31 481.27,238.67 484.30,238.77" fill="none" stroke="#a3a3a3" stroke-width="1.7" stroke-linejoin="round" stroke-linecap="round"/><circle cx="302.50" cy="236.52" r="1.8" fill="#a3a3a3"/><circle cx="320.68" cy="235.44" r="1.8" fill="#a3a3a3"/><circle cx="338.86" cy="235.87" r="1.8" fill="#a3a3a3"/><circle cx="357.04" cy="236.84" r="1.8" fill="#a3a3a3"/><circle cx="375.22" cy="236.84" r="1.8" fill="#a3a3a3"/><circle cx="393.40" cy="236.95" r="1.8" fill="#a3a3a3"/><circle cx="411.58" cy="237.38" r="1.8" fill="#a3a3a3"/><circle cx="429.76" cy="237.70" r="1.8" fill="#a3a3a3"/><circle cx="447.94" cy="237.70" r="1.8" fill="#a3a3a3"/><circle cx="466.12" cy="238.13" r="1.8" fill="#a3a3a3"/><circle cx="484.30" cy="238.77" r="1.8" fill="#a3a3a3"/><path d="M302.50,236.52 C305.53,237.79 314.62,241.07 320.68,244.15 C326.74,247.23 332.80,252.45 338.86,255.01 C344.92,257.57 350.98,258.00 357.04,259.52 C363.10,261.05 369.16,263.45 375.22,264.14 C381.28,264.84 387.34,262.87 393.40,263.71 C399.46,264.56 405.52,268.14 411.58,269.20 C417.64,270.25 423.70,269.68 429.76,270.06 C435.82,270.43 441.88,271.24 447.94,271.45 C454.00,271.67 460.06,271.15 466.12,271.35 C472.18,271.54 481.27,272.42 484.30,272.64" fill="none" stroke="#1a96e0" stroke-width="1.7" stroke-linejoin="round" stroke-linecap="round"/><circle cx="302.50" cy="236.52" r="1.8" fill="#1a96e0"/><circle cx="320.68" cy="244.15" r="1.8" fill="#1a96e0"/><circle cx="338.86" cy="255.01" r="1.8" fill="#1a96e0"/><circle cx="357.04" cy="259.52" r="1.8" fill="#1a96e0"/><circle cx="375.22" cy="264.14" r="1.8" fill="#1a96e0"/><circle cx="393.40" cy="263.71" r="1.8" fill="#1a96e0"/><circle cx="411.58" cy="269.20" r="1.8" fill="#1a96e0"/><circle cx="429.76" cy="270.06" r="1.8" fill="#1a96e0"/><circle cx="447.94" cy="271.45" r="1.8" fill="#1a96e0"/><circle cx="466.12" cy="271.35" r="1.8" fill="#1a96e0"/><circle cx="484.30" cy="272.64" r="1.8" fill="#1a96e0"/><path d="M302.50,236.52 C305.53,239.69 314.62,250.80 320.68,255.54 C326.74,260.29 332.80,262.32 338.86,265.00 C344.92,267.69 350.98,269.91 357.04,271.67 C363.10,273.43 369.16,274.45 375.22,275.54 C381.28,276.63 387.34,277.62 393.40,278.23 C399.46,278.84 405.52,278.80 411.58,279.19 C417.64,279.59 423.70,280.22 429.76,280.59 C435.82,280.97 441.88,281.31 447.94,281.45 C454.00,281.60 460.06,281.34 466.12,281.45 C472.18,281.56 481.27,281.99 484.30,282.10" fill="none" stroke="#3ea63a" stroke-width="1.7" stroke-linejoin="round" stroke-linecap="round"/><circle cx="302.50" cy="236.52" r="1.8" fill="#3ea63a"/><circle cx="320.68" cy="255.54" r="1.8" fill="#3ea63a"/><circle cx="338.86" cy="265.00" r="1.8" fill="#3ea63a"/><circle cx="357.04" cy="271.67" r="1.8" fill="#3ea63a"/><circle cx="375.22" cy="275.54" r="1.8" fill="#3ea63a"/><circle cx="393.40" cy="278.23" r="1.8" fill="#3ea63a"/><circle cx="411.58" cy="279.19" r="1.8" fill="#3ea63a"/><circle cx="429.76" cy="280.59" r="1.8" fill="#3ea63a"/><circle cx="447.94" cy="281.45" r="1.8" fill="#3ea63a"/><circle cx="466.12" cy="281.45" r="1.8" fill="#3ea63a"/><circle cx="484.30" cy="282.10" r="1.8" fill="#3ea63a"/><line x1="493.00" y1="236.20" x2="504.80" y2="236.20" stroke="#a3a3a3" stroke-width="1.7"/><circle cx="498.90" cy="236.20" r="1.8" fill="#a3a3a3"/><text x="505.90" y="239.10" font-family='"Liberation Sans", sans-serif' font-weight="bold" font-size="6.9" fill="#222" stroke="#222" stroke-width="0.22" textLength="35.0" lengthAdjust="spacingAndGlyphs">Neopentane</text><line x1="493.00" y1="248.00" x2="504.80" y2="248.00" stroke="#1a96e0" stroke-width="1.7"/><circle cx="498.90" cy="248.00" r="1.8" fill="#1a96e0"/><text x="505.90" y="250.90" font-family='"Liberation Sans", sans-serif' font-weight="bold" font-size="6.9" fill="#222" stroke="#222" stroke-width="0.22" textLength="29.0" lengthAdjust="spacingAndGlyphs">RE347mcc</text><line x1="493.00" y1="259.90" x2="504.80" y2="259.90" stroke="#3ea63a" stroke-width="1.7"/><circle cx="498.90" cy="259.90" r="1.8" fill="#3ea63a"/><text x="505.90" y="262.80" font-family='"Liberation Sans", sans-serif' font-weight="bold" font-size="6.9" fill="#222" stroke="#222" stroke-width="0.22" textLength="29.0" lengthAdjust="spacingAndGlyphs">Novec 649</text><text transform="translate(303.70,184.20) scale(1.1,1)" font-family='"Liberation Serif", serif' font-size="10.9" fill="#111" stroke="#111" stroke-width="0.2">(d)</text></g>
</svg></body></html>
